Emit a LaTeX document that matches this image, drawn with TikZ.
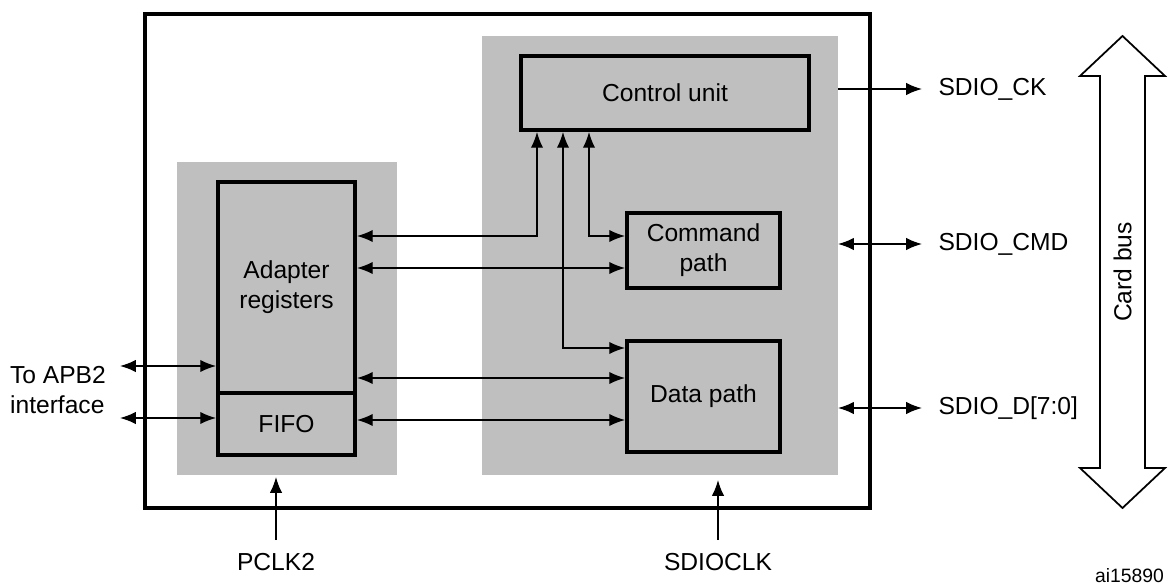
\documentclass[tikz,border=0pt]{standalone}
\usepackage{fontspec}
\setmainfont{Liberation Sans}
\usetikzlibrary{arrows.meta}
\tikzset{
  blk/.style={draw,line width=2.2pt,fill=black!25},
  zone/.style={fill=black!25},
  lnk/.style={line width=0.8pt,{Latex[length=9pt,width=7pt]}-{Latex[length=9pt,width=7pt]}},
  one/.style={line width=0.8pt,-{Latex[length=9pt,width=7pt]}},
  lbl/.style={font=\fontsize{14}{17}\selectfont}
}
\begin{document}
\begin{tikzpicture}[x=0.02cm,y=-0.02cm]
        \useasboundingbox (0,0) rectangle (1171,585);
        %frame and grey zones
        \draw[line width=2.6pt] (145,14) rectangle (870,508);
        \fill[zone] (177,162) rectangle (397,475);
        \fill[zone] (482,36) rectangle (838,475);

        %blocks
        \node[blk,minimum width=288*0.02cm,minimum height=74*0.02cm,lbl] (ctrl) at (665,93) {Control unit};
        \node[blk,minimum width=153*0.02cm,minimum height=75*0.02cm,lbl,align=center] (cmd) at (703.5,250.5) {Command\\path};
        \node[blk,minimum width=153*0.02cm,minimum height=111*0.02cm,lbl] (data) at (703.5,396.5) {Data path};
        \node[blk,minimum width=137*0.02cm,minimum height=211*0.02cm,lbl,align=center] (regs) at (286.5,287.5) {Adapter\\registers};
        \node[blk,minimum width=137*0.02cm,minimum height=62*0.02cm,lbl] (fifo) at (286.5,424) {FIFO};

        %internal links
        \draw[lnk] (regs.east|-0,236) -| (ctrl.south-|537,0);
        \draw[lnk] (regs.east|-0,268) -- (cmd.west|-0,268);
        \draw[lnk] (regs.east|-0,378) -- (data.west|-0,378);
        \draw[lnk] (fifo.east|-0,420) -- (data.west|-0,420);
        \draw[lnk] (ctrl.south-|563,0) |- (data.west|-0,348);
        \draw[lnk] (ctrl.south-|589,0) |- (cmd.west|-0,236);

        %external signals
        \coordinate (ck) at (922,89);
        \coordinate (cmdo) at (922,244);
        \coordinate (dato) at (922,408);
        \draw[one] (838,89) -- (ck) node[right=0.5cm,lbl,anchor=west,xshift=-0.3cm] {SDIO\_CK};
        \draw[lnk] (838,244) -- (cmdo) node[right=0.5cm,lbl,anchor=west,xshift=-0.3cm] {SDIO\_CMD};
        \draw[lnk] (838,408) -- (dato) node[right=0.5cm,lbl,anchor=west,xshift=-0.3cm] {SDIO\_D[7:0]};

        %card bus
        \draw[line width=1pt] (1122.5,36) -- (1165,76) -- (1145,76) -- (1145,468) -- (1165,468)
          -- (1122.5,508) -- (1080,468) -- (1100,468) -- (1100,76) -- (1080,76) -- cycle;
        \node[lbl,rotate=90] (bus) at (1122.5,272) {Card bus};

        %APB2 side
        \node[lbl,align=left] (apb) at (58,390) {To APB2\\interface};
        \draw[lnk] (120,366) -- (regs.west|-0,366);
        \draw[lnk] (120,418) -- (fifo.west|-0,418);

        %clocks
        \node[lbl] (pclk) at (276,562) {PCLK2};
        \node[lbl] (sdclk) at (718,562) {SDIOCLK};
        \draw[one] (pclk.north|-0,540) -- (276,477);
        \draw[one] (sdclk.north|-0,540) -- (718,480);
        \node[font=\fontsize{11}{13}\selectfont,anchor=base east] (ref) at (1170,582) {ai15890};
\end{tikzpicture}
\end{document}
